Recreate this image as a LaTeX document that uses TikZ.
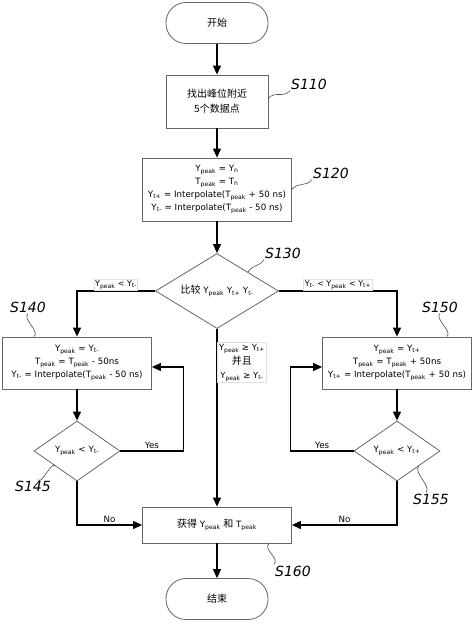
\documentclass[tikz,border=0pt]{standalone}
\usepackage{fontspec}
\setmainfont{DejaVu Sans}
\newfontfamily\cjk{Noto Sans CJK SC}
\usepackage{tikz}
\usetikzlibrary{arrows.meta,shapes.geometric,positioning}

\newcommand{\ypk}{Y\textsubscript{peak}}
\newcommand{\tpk}{T\textsubscript{peak}}
\newcommand{\ytp}{Y\textsubscript{t+}}
\newcommand{\ytm}{Y\textsubscript{t-}}

\begin{document}
\begin{tikzpicture}[
            x=1pt, y=-1pt,
            every node/.style={
                    font=\fontsize{8.7}{13}\selectfont,
                    text centered
                },
            terminal/.style={
                    draw=black!60,
                    line width=0.8pt,
                    rounded corners=20pt,
                    minimum width=102pt,
                    minimum height=41pt,
                    inner sep=0pt,
                    font=\cjk\fontsize{10}{14}\selectfont
                },
            process/.style={
                    draw=black!60,
                    line width=0.8pt,
                    minimum width=149pt,
                    align=center,
                    inner sep=3pt
                },
            decision/.style={
                    draw=black!60,
                    line width=0.8pt,
                    diamond,
                    inner sep=0pt,
                    align=center
                },
            flow line/.style={
                    draw=black,
                    line width=1.1pt,
                    -{Triangle[length=9pt,width=8pt]}
                },
            branch label/.style={
                    fill=white,
                    draw=black!12,
                    inner sep=1pt,
                    font=\fontsize{8}{9}\selectfont
                },
            answer/.style={
                    inner sep=2pt,
                    font=\fontsize{8.7}{10}\selectfont
                },
            step label/.style={
                    inner sep=1pt,
                    font=\fontsize{14}{14}\selectfont\itshape
                },
            lead line/.style={
                    draw=black!70,
                    line width=0.6pt
                }
        ]

        \useasboundingbox (0,0) rectangle (474,623);

        % Main column
        \node[terminal] (start) at (217,23) {开始};
        \node[process, minimum width=102pt, minimum height=53pt, font=\cjk\fontsize{10}{15}\selectfont] (b110) at (217,101.5) {找出峰位附近\\5个数据点};
        \node[process, minimum height=63pt] (b120) at (217,189.5) {\ypk\ = Y\textsubscript{n}\\\tpk\ = T\textsubscript{n}\\\ytp\ = Interpolate(\tpk\ + 50 ns)\\\ytm\ = Interpolate(\tpk\ - 50 ns)};
        \node[decision, minimum width=123pt, minimum height=75pt, shape aspect=1.64] (d130) at (217,291) {{\cjk\fontsize{10}{13}\selectfont 比较} \ypk\ \ytp\ \ytm};
        \node[process, minimum height=36pt] (b160) at (217,525) {{\cjk\fontsize{10}{13}\selectfont 获得} \ypk\ {\cjk\fontsize{10}{13}\selectfont 和} \tpk};
        \node[terminal] (stop) at (217,599) {结束};

        % Left branch
        \node[process, minimum height=52pt] (b140) at (77,363) {\ypk\ = \ytm\\\tpk\ = \tpk\ - 50ns\\\ytm\ = Interpolate(\tpk\ - 50 ns)};
        \node[decision, minimum width=86pt, minimum height=60pt, shape aspect=1.43] (d145) at (77,451) {\ypk\ < \ytm};

        % Right branch
        \node[process, minimum height=52pt] (b150) at (397,363) {\ypk\ = \ytp\\\tpk\ = \tpk\ + 50ns\\\ytp\ = Interpolate(\tpk\ + 50 ns)};
        \node[decision, minimum width=86pt, minimum height=60pt, shape aspect=1.43] (d155) at (397,451) {\ypk\ < \ytp};

        % Step labels
        \foreach \name/\x/\y in {110/309/84, 120/331/173, 130/283/253, 140/28/307,
                    145/33/486, 150/440/307, 155/431/499, 160/293/571} {
                \node[step label] (s\name) at (\x,\y) {S\name};
            }

        % Connections
        \draw[flow line] (start) -- (b110);
        \draw[flow line] (b110) -- (b120);
        \draw[flow line] (b120) -- (d130);
        \draw[flow line] (d130.west) -| node[branch label, pos=0.25, above] {\ypk\ < \ytm} (b140.north);
        \draw[flow line] (d130.east) -| node[branch label, pos=0.25, above] {\ytm\ < \ypk\ < \ytp} (b150.north);
        \draw[flow line] (d130.south) -- node[branch label, pos=0.19, right, align=center, inner sep=1.5pt, font=\fontsize{8.5}{14}\selectfont] {\ypk\ ≥ \ytp\\{\cjk\fontsize{10}{14}\selectfont 并且}\\\ypk\ ≥ \ytm} (b160.north);
        \draw[flow line] (b140) -- (d145);
        \draw[flow line] (d145.east) -- node[answer, above] {Yes} ++(63,0) |- ([yshift=-4pt]b140.east);
        \draw[flow line] (d145.south) |- node[answer, pos=0.75, above] {No} (b160.west);
        \draw[flow line] (b150) -- (d155);
        \draw[flow line] (d155.west) -- node[answer, above] {Yes} ++(-63,0) |- ([yshift=-4pt]b150.west);
        \draw[flow line] (d155.south) |- node[answer, pos=0.75, above] {No} (b160.east);
        \draw[flow line] (b160) -- (stop);

        % Lead lines to step labels
        \draw[lead line] ([yshift=3pt]b110.east) .. controls +(6,-8) and +(-6,8) .. (s110.south west);
        \draw[lead line] (b120.east) .. controls +(6,-8) and +(-6,8) .. (s120.south west);
        \draw[lead line] (d130.north east) .. controls +(5,-8) and +(-5,8) .. (s130.south west);
        \draw[lead line] (s140.south) .. controls +(-6,5) and +(6,-5) .. ([xshift=32pt]b140.north west);
        \draw[lead line] (s150.south) .. controls +(-6,5) and +(6,-5) .. ([xshift=-25pt]b150.north east);
        \draw[lead line] (d145.south west) .. controls +(-3,-7) and +(3,7) .. ([xshift=5pt]s145.north);
        \draw[lead line] (d155.south east) .. controls +(-6,6) and +(6,-6) .. ([xshift=-5pt]s155.north);
        \draw[lead line] ([xshift=-23pt]b160.south east) .. controls +(-6,6) and +(6,-6) .. (s160.north west);

    \end{tikzpicture}
\end{document}
